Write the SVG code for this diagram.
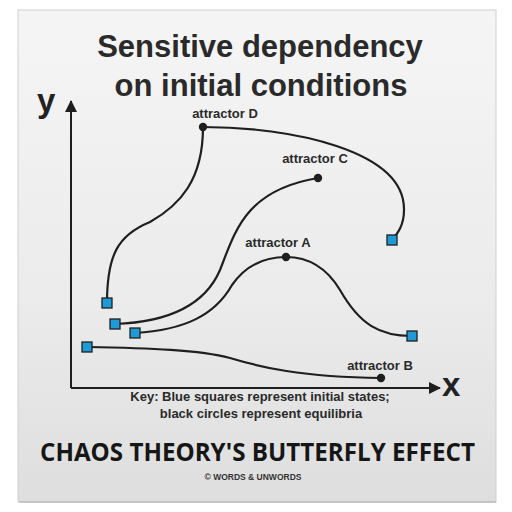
<svg xmlns="http://www.w3.org/2000/svg" width="512" height="512" viewBox="0 0 512 512">
<defs>
<linearGradient id="cloth" x1="0" y1="0" x2="0" y2="1">
<stop offset="0" stop-color="#f5f5f5"/>
<stop offset="0.6" stop-color="#ebebeb"/>
<stop offset="1" stop-color="#dedede"/>
</linearGradient>
<marker id="arrow" viewBox="0 0 12 12" refX="11" refY="6" markerWidth="12" markerHeight="12" markerUnits="userSpaceOnUse" orient="auto">
<path d="M0,0 L12,6 L0,12 Z" fill="#1e1e1e"/>
</marker>
<style>
.curve{fill:none;stroke:#1f1f1f;stroke-width:2.2;stroke-linecap:round}
.axis{fill:none;stroke:#1e1e1e;stroke-width:2}
.sq{fill:#1e9ad6;stroke:#1f1f1f;stroke-width:1.3}
.eq{fill:#1f1f1f}
.lbl{font-family:"Liberation Sans",Arial,sans-serif;font-weight:bold;font-size:13px;fill:#2a2a2a;text-anchor:middle}
.title{font-family:"Liberation Sans",Arial,sans-serif;font-weight:bold;font-size:31px;fill:#2a2a2a;text-anchor:middle}
.ax{font-family:"Liberation Sans",Arial,sans-serif;font-weight:bold;font-size:33px;fill:#222}
</style>
</defs>
<rect width="512" height="512" fill="#ffffff"/>
<rect x="18" y="10" width="478" height="492" fill="url(#cloth)" stroke="#cfcfcf" stroke-width="1"/>
<line x1="19" y1="502" x2="496" y2="502" stroke="#bdbdbd" stroke-width="1.5"/>

<text class="title" x="260" y="57">Sensitive dependency</text>
<text class="title" x="261" y="96">on initial conditions</text>

<g id="axes">
<path class="axis" d="M71,388 L71,101" marker-end="url(#arrow)"/>
<path class="axis" d="M71,388 L440,388" marker-end="url(#arrow)"/>
<text class="ax" x="37" y="112">y</text>
<text class="ax" x="442" y="396">x</text>
</g>

<g id="connectors">
<path class="curve" d="M107,303 C107,255 118,235 150,222 C180,205 203,180 203,127"/>
<path class="curve" d="M203,127 C290,127 405,150 404,210 C404,225 398,233 392,240"/>
<path class="curve" d="M115,324 C170,322 205,305 220,270 C235,232 245,190 318,178"/>
<path class="curve" d="M135,333 C185,330 215,315 232,285 C248,262 268,257 286,257 C305,257 325,265 340,290 C360,325 380,336 412,336"/>
<path class="curve" d="M87,347 C150,348 200,350 230,358 C260,367 300,377 381,378"/>
</g>

<g id="attractorD"><circle class="eq" cx="203" cy="127" r="4.2"/><text class="lbl" x="225" y="118">attractor D</text></g>
<g id="attractorC"><circle class="eq" cx="318" cy="178" r="4.2"/><text class="lbl" x="315" y="163">attractor C</text></g>
<g id="attractorA"><circle class="eq" cx="286" cy="257" r="4.2"/><text class="lbl" x="278" y="247">attractor A</text></g>
<g id="attractorB"><circle class="eq" cx="381" cy="378" r="4.2"/><text class="lbl" x="380" y="370">attractor B</text></g>

<g id="startD1"><rect class="sq" x="102" y="298" width="10" height="10"/></g>
<g id="startD2"><rect class="sq" x="387" y="235" width="10" height="10"/></g>
<g id="startC"><rect class="sq" x="110" y="319" width="10" height="10"/></g>
<g id="startA1"><rect class="sq" x="130" y="328" width="10" height="10"/></g>
<g id="startA2"><rect class="sq" x="407" y="331" width="10" height="10"/></g>
<g id="startB"><rect class="sq" x="82" y="342" width="10" height="10"/></g>

<g id="key">
<text class="lbl" x="260" y="401">Key: Blue squares represent initial states;</text>
<text class="lbl" x="261" y="418">black circles represent equilibria</text>
</g>

<text x="257.5" y="461" font-family="'Open Sans','DejaVu Sans',sans-serif" font-weight="bold" font-size="25" fill="#161616" text-anchor="middle" textLength="435" lengthAdjust="spacingAndGlyphs">CHAOS THEORY'S BUTTERFLY EFFECT</text>
<text x="253" y="480" font-family="'Liberation Sans',Arial,sans-serif" font-weight="bold" font-size="8.5" fill="#333" text-anchor="middle">© WORDS &amp; UNWORDS</text>
</svg>
